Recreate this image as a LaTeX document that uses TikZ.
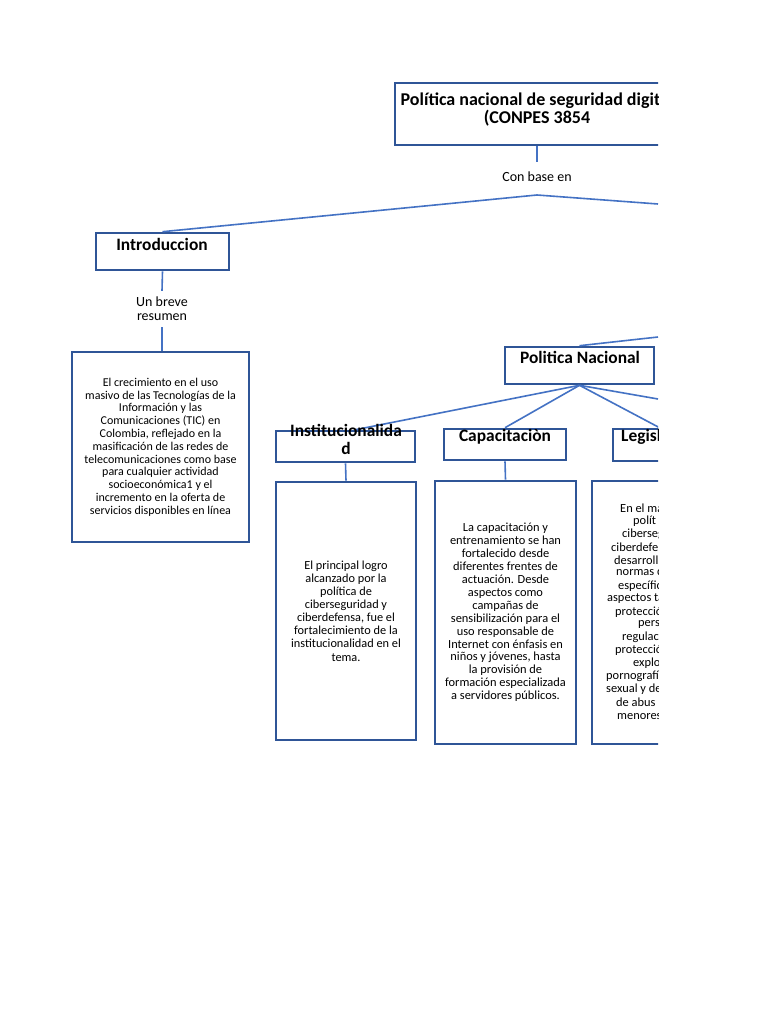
\documentclass[tikz,border=0pt]{standalone}
\usepackage{fontspec}
\setmainfont{Carlito}
\definecolor{boxblue}{HTML}{2F5597}
\definecolor{lineblue}{HTML}{4472C4}
\begin{document}
\begin{tikzpicture}[x=1pt,y=-1pt,
  box/.style={draw=boxblue, line width=2.6pt, inner sep=0pt, fill=white},
  link/.style={draw=lineblue, line width=1.6pt},
  head/.style={font=\bfseries\fontsize{17.4}{18}\selectfont, inner sep=0pt, align=center},
  body/.style={font=\fontsize{12.4}{12.9}\selectfont, align=center},
  lbl/.style={font=\fontsize{14}{14}\selectfont, align=center, inner sep=0pt}]
\useasboundingbox[fill=white] (0,0) rectangle (768,1024);
\begin{scope}
\clip (0,0) rectangle (658,1024);
% boxes
\node[box, minimum width=284pt, minimum height=62pt] (title) at (537,114) {};
\node[box, minimum width=133pt, minimum height=37pt] (intro) at (162.5,251.5) {};
\node[box, minimum width=177pt, minimum height=190pt, body, font=\fontsize{12}{12.8}\selectfont] (introtxt) at (160.5,447) {El crecimiento en el uso\\masivo de las Tecnologías de la\\Información y las\\Comunicaciones (TIC) en\\Colombia, reflejado en la\\masificación de las redes de\\telecomunicaciones como base\\para cualquier actividad\\socioeconómica1 y el\\incremento en la oferta de\\servicios disponibles en línea};
\node[box, minimum width=149pt, minimum height=37pt] (pn) at (579.5,365.5) {};
\node[box, minimum width=139pt, minimum height=31pt] (inst) at (345.5,446.5) {};
\node[box, minimum width=122pt, minimum height=31pt] (cap) at (505,444.5) {};
\node[box, minimum width=127pt, minimum height=32pt] (legis) at (676.5,445) {};
\node[box, minimum width=140pt, minimum height=258pt, body, font=\fontsize{12.3}{13.1}\selectfont] (insttxt) at (346,611) {El principal logro\\alcanzado por la\\política de\\ciberseguridad y\\ciberdefensa, fue el\\fortalecimiento de la\\institucionalidad en el\\tema.};
\node[box, minimum width=141pt, minimum height=263pt, body] (captxt) at (505.5,612.5) {La capacitación y\\entrenamiento se han\\fortalecido desde\\diferentes frentes de\\actuación. Desde\\aspectos como\\campañas de\\sensibilización para el\\uso responsable de\\Internet con énfasis en\\niños y jóvenes, hasta\\la provisión de\\formación especializada\\a servidores públicos.};
\node[box, minimum width=141pt, minimum height=263pt] (legistxt) at (662.5,612.5) {};
% labels
\node[lbl, minimum height=30pt] (conbase) at (537,177) {Con base en};
\node[lbl, minimum height=36pt] (breve) at (162,309) {Un breve\\resumen};
\coordinate (hub) at (537,195);
\coordinate (r1) at (658,204);
\coordinate (r4) at (658,337);
\coordinate (r2) at (658,399);
\coordinate (lgtop) at (662,429);
% connectors
\draw[link] (title.south) -- (conbase.north);
\draw[link] (hub) -- (intro.north);
\draw[link] (hub) -- (r1);
\draw[link] (intro.south) -- (breve.north);
\draw[link] (breve.south) -- (breve.south |- introtxt.north);
\draw[link] (r4) -- (pn.north);
\draw[link] (pn.south) -- ([xshift=10pt]inst.north);
\draw[link] (pn.south) -- (cap.north);
\draw[link] (pn.south) -- (r2);
\draw[link] (pn.south) -- (lgtop);
\draw[link] (inst.south) -- (insttxt.north);
\draw[link] (cap.south) -- (captxt.north);
% heading texts
\node[head, font=\bfseries\fontsize{18}{16}\selectfont] (titlelbl) at (537,109.5) {Política nacional de seguridad digital\\(CONPES 3854};
\node[head] (introlbl) at (162,244) {Introduccion};
\node[head] (pnlbl) at (580,357) {Politica Nacional};
\node[head] (instlbl) at (346,439) {Institucionalida\\d};
\node[head] (caplbl) at (505,437) {Capacitaciòn};
\node[head, anchor=west] (legislbl) at (621,437) {Legislación};
% clipped paragraph of the Legislación box
\foreach \px/\py/\t [count=\i] in {620/508/En el ma, 633/521/polít, 622/534/ciberseg, 611/547/ciberdefe, 614/560/desarroll, 616/573/normas q, 618/586/específic, 607/599/aspectos ta, 615/612/protecció, 638/624/perso, 622/637/regulac, 615/650/protecció, 633/663/explot, 606/676/pornografí, 606/689/sexual y de, 616/702/de abus, 617/715/menores d}
  \node[font=\fontsize{12.4}{12.9}\selectfont, inner sep=0pt, anchor=west] (lg\i) at (\px,\py) {\t};
\end{scope}
\end{tikzpicture}
\end{document}
